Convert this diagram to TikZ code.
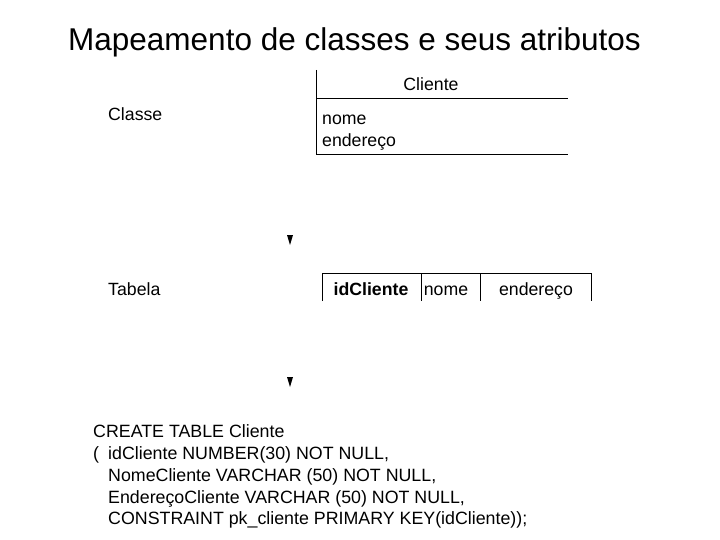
\documentclass[tikz,border=0pt]{standalone}
\usepackage{fontspec}
\setmainfont{Liberation Sans}
\begin{document}
\begin{tikzpicture}[x=1pt,y=-1pt,
  lbl/.style={anchor=base west,inner sep=0pt,font=\fontsize{17.7}{21}\selectfont},
  ctr/.style={anchor=base,inner sep=0pt,font=\fontsize{17.7}{21}\selectfont},
  ln/.style={line width=0.9pt},
  tip/.style={fill=black}]
\useasboundingbox (0,0) rectangle (720,540);
\node[anchor=base west,inner sep=0pt,font=\fontsize{31.5}{36}\selectfont] (title) at (68,51) {Mapeamento de classes e seus atributos};
\node[lbl] (classe) at (108,121) {Classe};
\node[lbl] (tabela) at (108,295) {Tabela};
% UML class
\draw[ln] (316,70) -- (316,154) -- (568,154);
\draw[ln] (316,98) -- (568,98);
\node[ctr] (cname) at (431,91) {Cliente};
\node[lbl] (a1) at (322,125) {nome};
\node[lbl] (a2) at (322,147) {endereço};
% arrowheads
\coordinate (t1) at (290,245);
\coordinate (t2) at (290,387);
\fill[tip] (t1) -- ++(-3,-10) -- ++(6,0) -- cycle;
\fill[tip] (t2) -- ++(-3,-10) -- ++(6,0) -- cycle;
% table
\draw[ln] (322,301) -- (322,273) -- (591,273) -- (591,301);
\draw[ln] (421,273) -- (421,301);
\draw[ln] (480,273) -- (480,301);
\node[ctr,font=\fontsize{17.7}{21}\selectfont\bfseries] (c1) at (371,295) {idCliente};
\node[ctr] (c2) at (446,295) {nome};
\node[ctr] (c3) at (536,295) {endereço};
% SQL
\node[lbl,font=\fontsize{17.8}{21}\selectfont] (s1) at (93,437) {CREATE TABLE Cliente};
\node[lbl,font=\fontsize{17.8}{21}\selectfont] (s2a) at (93,459) {(};
\node[lbl,font=\fontsize{17.8}{21}\selectfont] (s2) at (108,459) {idCliente NUMBER(30) NOT NULL,};
\node[lbl,font=\fontsize{17.8}{21}\selectfont] (s3) at (108,481) {NomeCliente VARCHAR (50) NOT NULL,};
\node[lbl,font=\fontsize{17.8}{21}\selectfont] (s4) at (108,503) {EndereçoCliente VARCHAR (50) NOT NULL,};
\node[lbl,font=\fontsize{17.8}{21}\selectfont] (s5) at (108,524) {CONSTRAINT pk\_cliente PRIMARY KEY(idCliente));};
\end{tikzpicture}
\end{document}
